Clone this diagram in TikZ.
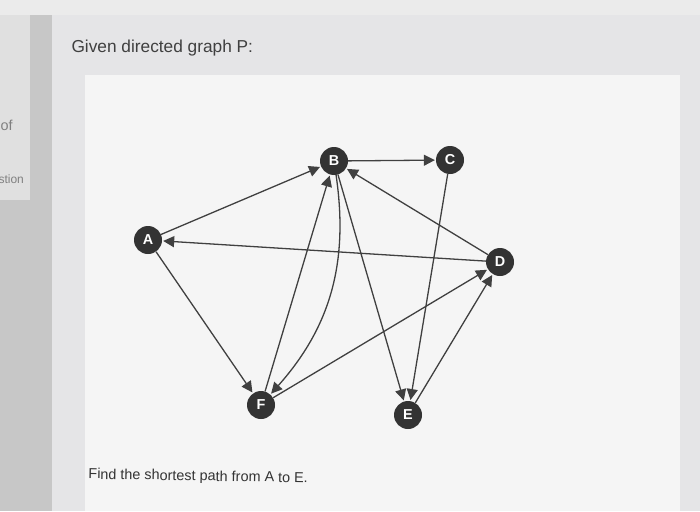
\documentclass[tikz,border=0pt]{standalone}
\usepackage{fontspec}
\setmainfont{Liberation Sans}
\usetikzlibrary{arrows.meta}
\begin{document}
\begin{tikzpicture}[x=1pt,y=-1pt,
  vert/.style={circle,fill=black!80,text=white,font=\bfseries\Large,minimum size=28pt,inner sep=0pt},
  edge/.style={draw=black!75,line width=1.3pt,-{Triangle[width=11pt,length=11pt]},shorten >=1pt}]
\useasboundingbox (0,0) rectangle (700,511);
\fill[black!8] (0,0) rectangle (700,511);
\fill[black!22] (0,15) rectangle (52,511);
\fill[black!12] (0,15) rectangle (30,200);
\fill[blue!4!black!10] (52,15) rectangle (700,511);
\fill[black!4] (85,75) rectangle (680,511);
\node[anchor=west,font=\LARGE,text=black!75] (t) at (68,48) {Given directed graph P:};
\node[anchor=west,font=\Large,text=black!50] (of) at (-3,125) {of};
\node[anchor=west,font=\large,text=black!50] (st) at (-5,179) {stion};
\node[anchor=west,font=\Large,text=black!80,rotate=-1] (q) at (85,475) {Find the shortest path from A to E.};
\node[vert] (A) at (148,240) {A};
\node[vert] (B) at (334,161) {B};
\node[vert] (C) at (450,160) {C};
\node[vert] (D) at (500,262) {D};
\node[vert] (E) at (408,415) {E};
\node[vert] (F) at (261,405) {F};
\draw[edge] (A) -- (B);
\draw[edge] (B) -- (C);
\draw[edge] (D) -- (B);
\draw[edge] (D) -- (A);
\draw[edge] (A) -- (F);
\draw[edge] (F) -- (B);
\draw[edge] (B) to[bend left=25] (F);
\draw[edge] (B) -- (E);
\draw[edge] (C) -- (E);
\draw[edge] (F) -- (D);
\draw[edge] (E) -- (D);
\end{tikzpicture}
\end{document}
